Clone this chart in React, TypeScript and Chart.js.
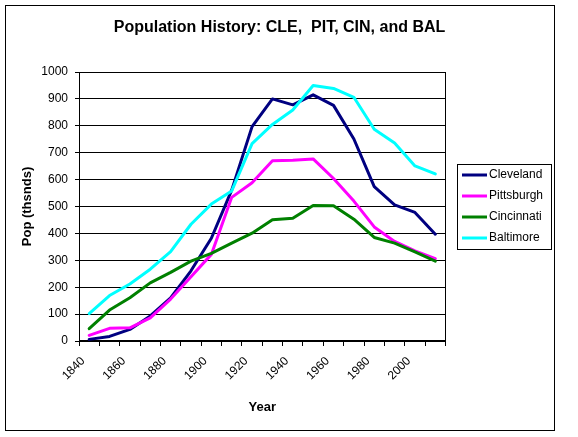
import React, { useEffect, useRef } from 'react';
import { Chart, registerables } from 'chart.js';

Chart.register(...registerables);

const years = ['1840', '1850', '1860', '1870', '1880', '1890', '1900', '1910', '1920', '1930', '1940', '1950', '1960', '1970', '1980', '1990', '2000', '2010'];
const cleveland = [6, 17, 43, 93, 160, 261, 382, 561, 797, 900, 878, 915, 876, 751, 574, 506, 478, 397];
const pittsburgh = [21, 47, 49, 86, 156, 239, 322, 534, 588, 670, 672, 677, 604, 520, 424, 370, 335, 306];
const cincinnati = [46, 115, 161, 216, 255, 297, 326, 364, 401, 451, 456, 504, 503, 453, 385, 364, 331, 297];
const baltimore = [102, 169, 212, 267, 332, 434, 509, 558, 734, 805, 859, 950, 939, 906, 787, 736, 651, 621];
const seriesNames = ['Cleveland', 'Pittsburgh', 'Cincinnati', 'Baltimore'];
const seriesColors = ['#000080', '#FF00FF', '#008000', '#00FFFF'];
const titleText = 'Population History: CLE,  PIT, CIN, and BAL';
const yTitle = 'Pop (thsnds)';
const xTitle = 'Year';

const FONT = 'Arial, "Liberation Sans", sans-serif';

const framePlugin = {
  id: 'frame',
  beforeDatasetsDraw(chart: any) {
    const { ctx, chartArea } = chart;
    ctx.save();
    ctx.strokeStyle = '#000';
    ctx.lineWidth = 1;
    const l = Math.round(chartArea.left) + 0.5;
    const t = Math.round(chartArea.top) + 0.5;
    const r = Math.round(chartArea.right) - 0.5;
    const b = Math.round(chartArea.bottom) - 0.5;
    ctx.strokeRect(l, t, r - l, b - t);
    ctx.restore();
  },
  afterDraw(chart: any) {
    const { ctx, chartArea } = chart;
    ctx.save();
    ctx.strokeStyle = '#000';
    ctx.lineWidth = 1;
    ctx.strokeRect(5.5, 5.5, 549, 425);
    // legend
    const lx = Math.round(chartArea.right) + 11;
    const ly = 164;
    ctx.strokeRect(lx + 0.5, ly + 0.5, 94, 85);
    ctx.font = '12px ' + FONT;
    ctx.textBaseline = 'middle';
    ctx.textAlign = 'left';
    chart.data.datasets.forEach((ds: any, i: number) => {
      const y = ly + 11 + i * 21;
      ctx.strokeStyle = ds.borderColor;
      ctx.lineWidth = 3;
      ctx.beginPath();
      ctx.moveTo(lx + 5, y);
      ctx.lineTo(lx + 30, y);
      ctx.stroke();
      ctx.fillStyle = '#000';
      ctx.fillText(ds.label, lx + 32, y);
    });
    ctx.restore();
  },
};

export default function App() {
  const ref = useRef<HTMLCanvasElement>(null);

  useEffect(() => {
    const values = [cleveland, pittsburgh, cincinnati, baltimore];
    const chart = new Chart(ref.current as HTMLCanvasElement, {
      type: 'line',
      data: {
        labels: years,
        datasets: values.map((v, i) => ({
          label: seriesNames[i],
          data: v,
          borderColor: seriesColors[i],
          backgroundColor: seriesColors[i],
          borderWidth: 3,
          pointRadius: 0,
          tension: 0,
          fill: false,
          borderJoinStyle: 'round' as const,
          borderCapStyle: 'round' as const,
          order: 3 - i,
        })),
      },
      options: {
        responsive: false,
        animation: false,
        devicePixelRatio: 1,
        layout: { padding: { left: 0, right: 19, top: 0, bottom: 0 } },
        plugins: {
          legend: { display: false },
          tooltip: { enabled: false },
          title: {
            display: true,
            text: titleText,
            color: '#000',
            font: { family: FONT, size: 16, weight: 'bold' },
            padding: { top: 18, bottom: 34.8 },
          },
        },
        scales: {
          x: {
            type: 'category',
            offset: true,
            grid: {
              offset: true,
              drawOnChartArea: false,
              drawTicks: true,
              tickLength: 5,
              color: '#000',
            },
            border: { display: true, color: '#000' },
            ticks: {
              autoSkip: false,
              minRotation: 45,
              maxRotation: 45,
              padding: 8,
              labelOffset: -6,
              color: '#000',
              font: { family: FONT, size: 12 },
              callback: (_v: any, i: number) => (i % 2 === 0 ? years[i] : ''),
            },
            title: {
              display: true,
              text: xTitle,
              color: '#000',
              font: { family: FONT, size: 13, weight: 'bold' },
              padding: { top: 0, bottom: 21.7 },
            },
            afterFit: (s: any) => {
              s.height = 96;
            },
          },
          y: {
            min: 0,
            max: 1000,
            grid: { color: '#000', tickLength: 4, drawTicks: true },
            border: { display: true, color: '#000' },
            ticks: {
              stepSize: 100,
              padding: 7,
              color: '#000',
              font: { family: FONT, size: 12 },
              callback: (v: any) => String(v),
            },
            title: {
              display: true,
              text: yTitle,
              color: '#000',
              font: { family: FONT, size: 13, weight: 'bold' },
              padding: { top: 20, bottom: 0 },
            },
            afterFit: (s: any) => {
              s.width = 79;
            },
          },
          spacer: {
            position: 'right',
            display: true,
            grid: { display: false, drawTicks: false },
            border: { display: false },
            ticks: { display: false },
            afterFit: (s: any) => {
              s.width = 113.5;
            },
          },
        },
      },
      plugins: [framePlugin],
    } as any);
    return () => chart.destroy();
  }, []);

  return (
    <div style={{ position: 'fixed', left: 0, top: 0, width: 578, height: 437, background: '#fff' }}>
      <canvas ref={ref} width={578} height={437} style={{ width: 578, height: 437, display: 'block' }} />
    </div>
  );
}
